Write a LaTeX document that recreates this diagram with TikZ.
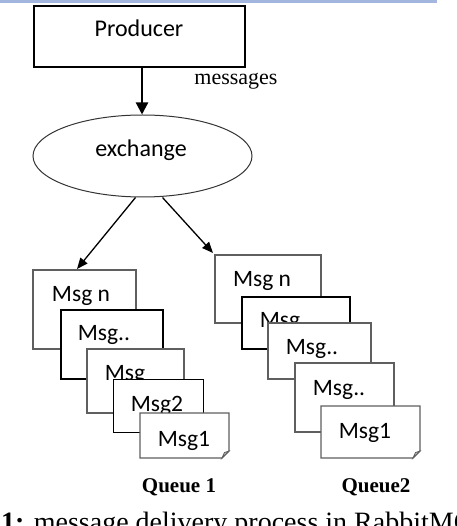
\documentclass[tikz,border=0pt]{standalone}
\usepackage{fontspec}
\setmainfont{Liberation Serif}
\newfontfamily\calib{Carlito}
\usetikzlibrary{shapes.geometric,arrows.meta}
\definecolor{topblue}{RGB}{162,182,222}
\definecolor{boxgray}{RGB}{95,95,95}
\tikzset{
  msgbox/.style={draw=boxgray, line width=1.3pt, fill=white, inner sep=0pt, outer sep=0pt, anchor=north west},
  darkbox/.style={msgbox, draw=black},
  msgtext/.style={anchor=base, inner sep=0pt, font=\calib\fontsize{23.5}{27}\selectfont},
  bigtext/.style={anchor=base, inner sep=0pt, font=\calib\fontsize{24}{28}\selectfont},
  qlabel/.style={anchor=base, inner sep=0pt, font=\bfseries\fontsize{21}{25}\selectfont},
  flow/.style={line width=1.3pt, -{Triangle[length=11pt,width=9pt]}},
  bigflow/.style={line width=2.2pt, -{Triangle[length=12pt,width=12pt]}},
  foldbox/.style={draw=boxgray, line width=1.3pt, fill=white},
  fold/.style={draw=boxgray, line width=0.8pt, fill=gray!45}
}
\begin{document}
\begin{tikzpicture}[x=1pt,y=-1pt]
\useasboundingbox (0,0) rectangle (456,526);
\clip (0,0) rectangle (456,526);
\fill[topblue] (0,0) rectangle (437,2.6);

% producer and exchange
\node[draw=black, line width=2pt, fill=white, inner sep=0pt, anchor=north west,
      minimum width=211pt, minimum height=61pt] (prod) at (33,5) {};
\node[bigtext] (prodt) at (139,37) {Producer};
\node[draw=black!80, line width=1pt, ellipse, inner sep=0pt,
      minimum width=219pt, minimum height=82pt] (exch) at (142.5,156) {};
\node[bigtext] (excht) at (141,157) {exchange};
\node[anchor=base, inner sep=0pt, font=\fontsize{22}{26}\selectfont] (msgs) at (236,85) {messages};
\draw[bigflow] (prod.south -| 142,0) -- (exch.north -| 142,0);

% queue 1
\node[msgbox, minimum width=103pt, minimum height=79pt] (l1) at (33,270) {};
\node[msgtext] (l1t) at (81,301) {Msg n};
\node[darkbox, minimum width=102pt, minimum height=69pt] (l2) at (61,310) {};
\node[msgtext] (l2t) at (104,340) {Msg..};
\node[msgbox, minimum width=97pt, minimum height=64pt] (l3) at (87,349) {};
\node[msgtext] (l3t) at (125,380) {Msg};
\node[darkbox, line width=1pt, minimum width=90pt, minimum height=53pt] (l4) at (113,379) {};
\node[msgtext] (l4t) at (157,411) {Msg2};
\path[foldbox] (140,413) -- (229,413) -- (229,451) -- (222,458) -- (140,458) -- cycle;
\path[fold] (229,451) -- (224.5,452.5) -- (222,458) -- cycle;
\node[msgtext] (l5t) at (184,446) {Msg1};
\node[qlabel] (q1) at (179,492) {Queue 1};

% queue 2
\node[msgbox, minimum width=106pt, minimum height=68pt] (r1) at (215,255) {};
\node[msgtext] (r1t) at (262,286) {Msg n};
\node[darkbox, minimum width=108pt, minimum height=52pt] (r2) at (242,297) {};
\node[msgtext] (r2t) at (280,327) {Msg};
\node[msgbox, minimum width=103pt, minimum height=56pt] (r3) at (268,323) {};
\node[msgtext] (r3t) at (312,354) {Msg..};
\node[msgbox, minimum width=99pt, minimum height=69pt] (r4) at (295,363) {};
\node[msgtext] (r4t) at (339,395) {Msg..};
\path[foldbox] (321,406) -- (420,406) -- (420,451) -- (413,458) -- (321,458) -- cycle;
\path[fold] (420,451) -- (415.5,452.5) -- (413,458) -- cycle;
\node[msgtext] (r5t) at (365,438) {Msg1};
\node[qlabel] (q2) at (376,492) {Queue2};

% arrows to queues
\draw[flow] ([xshift=-7pt]exch.south) -- ([xshift=44pt,yshift=1pt]l1.north west);
\draw[flow] ([xshift=20pt]exch.south) -- ([xshift=-2pt,yshift=2pt]r1.north west);

% caption (cut off)
\node[anchor=base west, inner sep=0pt, font=\fontsize{28}{32}\selectfont] (cap) at (1,531) {\textbf{1:} message delivery process in RabbitMQ};
\end{tikzpicture}
\end{document}
